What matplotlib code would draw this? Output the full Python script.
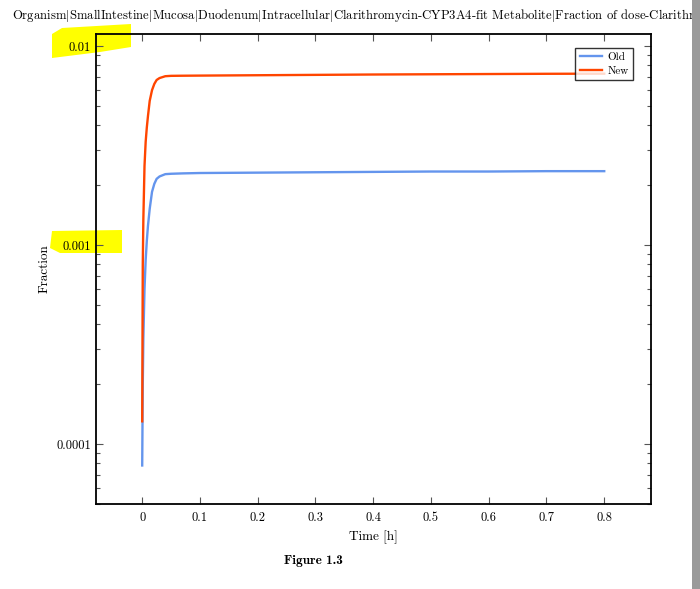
import matplotlib
matplotlib.use("Agg")
import matplotlib.pyplot as plt
from matplotlib.patches import Polygon, Rectangle
from matplotlib.ticker import LogLocator, FixedLocator, NullFormatter, FixedFormatter

plt.rcParams['font.family'] = ['cmr10', 'DejaVu Serif']
plt.rcParams['mathtext.fontset'] = 'cm'
plt.rcParams['axes.formatter.use_mathtext'] = True

title_parts = ["Organism", "SmallIntestine", "Mucosa", "Duodenum", "Intracellular",
               "Clarithromycin-CYP3A4-fit Metabolite", "Fraction of dose-Clarithromycin"]
time_h = [0.0, 0.001, 0.002, 0.004, 0.006, 0.008, 0.010, 0.013, 0.017, 0.021, 0.025, 0.030,
          0.040, 0.050, 0.070, 0.100, 0.200, 0.300, 0.400, 0.500, 0.600, 0.700, 0.800]
old_vals = [7.8e-5, 2.0e-4, 3.4e-4, 6.0e-4, 8.4e-4, 1.05e-3, 1.25e-3, 1.52e-3, 1.85e-3, 2.03e-3, 2.15e-3, 2.21e-3,
            2.27e-3, 2.28e-3, 2.29e-3, 2.30e-3, 2.31e-3, 2.32e-3, 2.33e-3, 2.34e-3, 2.34e-3, 2.35e-3, 2.35e-3]
new_vals = [1.3e-4, 8.0e-4, 1.35e-3, 2.5e-3, 3.3e-3, 3.9e-3, 4.45e-3, 5.3e-3, 6.0e-3, 6.45e-3, 6.75e-3, 6.9e-3,
            7.05e-3, 7.08e-3, 7.09e-3, 7.10e-3, 7.13e-3, 7.16e-3, 7.19e-3, 7.21e-3, 7.23e-3, 7.25e-3, 7.26e-3]
series_names = ["Old", "New"]
series_colors = ["#6495ED", "#FF4500"]
x_ticks = [0, 0.1, 0.2, 0.3, 0.4, 0.5, 0.6, 0.7, 0.8]
x_ticklabels = ["0", "0.1", "0.2", "0.3", "0.4", "0.5", "0.6", "0.7", "0.8"]
y_ticks = [1e-4, 1e-3, 1e-2]
y_ticklabels = ["0.0001", "0.001", "0.01"]

W, H = 700, 589
fig = plt.figure(figsize=(7.0, 5.89), dpi=100)

def fx(px):
    return px / W

def fy(py):
    return 1 - py / H

# yellow highlights behind tick labels
hl1 = [(52, 34), (62, 28), (131, 24), (131, 47), (100, 52), (52, 58)]
hl2 = [(52, 231), (122, 230), (122, 253), (60, 253), (50, 248)]
for pts in (hl1, hl2):
    fig.patches.append(Polygon([(fx(a), fy(b)) for a, b in pts], closed=True,
                               transform=fig.transFigure, facecolor="#FFFF00",
                               edgecolor="none", zorder=-5))
# gray bar on right edge (covers the end of the title)
fig.patches.append(Rectangle((fx(692), 0), fx(8), 1, transform=fig.transFigure,
                             facecolor="#9a9a9a", edgecolor="none", zorder=10))

ax = fig.add_axes([fx(96), fy(504), fx(651 - 96), (504 - 34) / H])
ax.patch.set_alpha(0)
ax.plot(time_h, old_vals, color=series_colors[0], lw=1.7, label=series_names[0])
ax.plot(time_h, new_vals, color=series_colors[1], lw=1.7, label=series_names[1])
ax.set_yscale('log')
ax.set_xlim(-0.08, 0.881)
ax.set_ylim(10 ** (-4 - 60 / 199), 10 ** (-2 + 12 / 199))

ax.xaxis.set_major_locator(FixedLocator(x_ticks))
ax.xaxis.set_major_formatter(FixedFormatter(x_ticklabels))
ax.yaxis.set_major_locator(FixedLocator(y_ticks))
ax.yaxis.set_major_formatter(FixedFormatter(y_ticklabels))
ax.yaxis.set_minor_locator(LogLocator(base=10, subs=range(2, 10)))
ax.yaxis.set_minor_formatter(NullFormatter())
ax.tick_params(which='both', direction='in', top=True, right=True, color='#555555',
               labelsize=9)
ax.tick_params(which='major', length=5, width=0.8)
ax.tick_params(which='minor', length=3, width=0.8)
ax.tick_params(axis='x', pad=6)
for s in ax.spines.values():
    s.set_linewidth(1.3)
    s.set_color('black')

ax.set_xlabel("Time [h]", fontsize=9.5, labelpad=4)
ax.set_ylabel("Fraction", fontsize=9.5, labelpad=4)

leg = ax.legend(loc='upper right', fontsize=8, frameon=True, fancybox=False,
                edgecolor='black', handlelength=2.0, borderpad=0.4, labelspacing=0.35,
                handletextpad=0.5, borderaxespad=0, bbox_to_anchor=(0.9676, 0.970))
leg.get_frame().set_linewidth(1.0)

title = r"$|$".join(title_parts)
fig.text(fx(12), fy(16), title, fontsize=9.15, ha='left', va='center')
fig.text(fx(313), fy(561), "Figure 1.3", fontsize=9.5, ha='center', va='center',
         family=['cmb10', 'DejaVu Serif'], fontweight='bold')

fig.savefig("out.png", dpi=100)
